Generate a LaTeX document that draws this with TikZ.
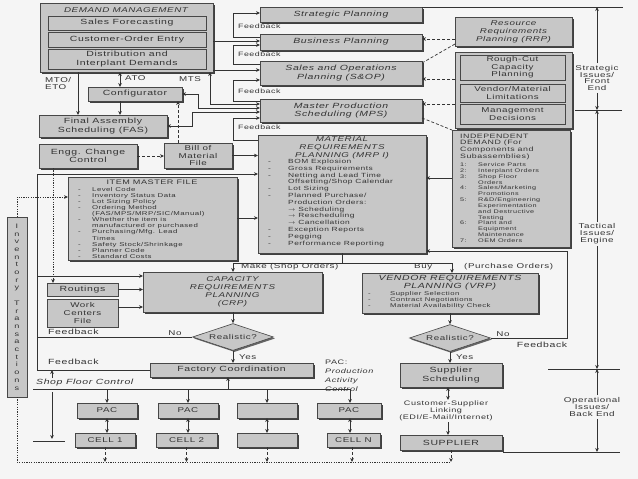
\documentclass[tikz,border=0pt]{standalone}
\usepackage{fontspec}
\setmainfont{Liberation Sans}[FakeStretch=1.4,LetterSpace=8]
\usetikzlibrary{arrows.meta,shapes.geometric,shadows}
\definecolor{boxfill}{gray}{0.78}
\definecolor{boxline}{gray}{0.28}
\definecolor{ink}{gray}{0.2}
\definecolor{bgc}{gray}{0.96}
\newcommand{\fsz}[2]{\fontsize{#1}{#2}\selectfont}
\newcommand{\mbul}{\makebox[20pt][l]{-}}
\newcommand{\mnob}{\makebox[20pt][l]{}}
\newcommand{\ibul}{\makebox[14pt][l]{-}}
\newcommand{\inob}{\makebox[14pt][l]{}}
\newcommand{\vbul}{\makebox[22pt][l]{-}}
\newcommand{\nbul}[1]{\makebox[18pt][l]{#1}}
\newcommand{\placebox}[7][]{\node[#1,anchor=north west,minimum width={(#5)-(#3)},minimum height={(#6)-(#4)}] (#2) at (#3,#4) {#7};}
\tikzset{
 every node/.style={text=ink},
 gbox/.style={draw=boxline,fill=boxfill,line width=0.6pt,inner sep=1pt,outer sep=0pt,align=center,font=\fsz{7.5}{8.5}},
 sbox/.style={gbox,drop shadow={shadow xshift=2pt,shadow yshift=-2pt,fill=black!75,opacity=1}},
 dia/.style={diamond,draw=boxline,fill=boxfill,line width=0.6pt,minimum width=81pt,minimum height=27pt,inner sep=0pt,shape aspect=3,font=\fsz{7}{8},drop shadow={shadow xshift=1.5pt,shadow yshift=-1.5pt,fill=black!60,opacity=1}},
 conn/.style={draw=ink,line width=0.7pt},
 arr/.style={conn,-{Stealth[length=4pt,width=3.6pt]}},
 darr/.style={conn,{Stealth[length=4pt,width=3.6pt]}-{Stealth[length=4pt,width=3.6pt]}},
 dashc/.style={dash pattern=on 3pt off 2pt},
 dotc/.style={dash pattern=on 1.2pt off 1.2pt,line width=0.9pt},
 lbl/.style={inner sep=1pt,font=\fsz{7}{8}},
}
\begin{document}
\begin{tikzpicture}[x=1pt,y=-1pt]
\fill[bgc] (0,0) rectangle (638,479);
\useasboundingbox (0,0) rectangle (638,479);

% ---------- Demand management ----------
\placebox[sbox]{dm}{40}{3}{213}{72}{}
\node[lbl,font=\fsz{7}{8}\itshape] (dmt) at (126,10) {DEMAND MANAGEMENT};
\placebox[gbox]{sf}{48}{16}{206}{30}{Sales Forecasting}
\placebox[gbox]{coe}{48}{32}{206}{47}{Customer-Order Entry}
\placebox[gbox]{did}{48}{49}{206}{69}{Distribution and\\Interplant Demands}

% ---------- left column ----------
\placebox[sbox]{cfg}{88}{87}{182}{101}{Configurator}
\placebox[sbox]{fas}{39}{115}{167}{137}{Final Assembly\\Scheduling (FAS)}
\placebox[sbox]{ecc}{39}{144}{137}{168}{Engg. Change\\Control}
\placebox[sbox,font=\fsz{7}{7.5}]{bom}{164}{143}{232}{168}{Bill of\\Material\\File}

% ---------- central column ----------
\placebox[sbox,font=\fsz{7.5}{8.5}\itshape]{sp}{260}{7}{422}{22}{Strategic Planning}
\placebox[sbox,font=\fsz{7.5}{8.5}\itshape]{bp}{260}{34}{422}{50}{Business Planning}
\placebox[sbox,font=\fsz{7.5}{8.5}\itshape]{sop}{260}{61}{422}{85}{Sales and Operations\\Planning (S\&OP)}
\placebox[sbox,font=\fsz{7.5}{8.5}\itshape]{mps}{260}{99}{422}{122}{Master Production\\Scheduling (MPS)}
\placebox[sbox]{mrp}{258}{135}{426}{253}{}
\node[lbl,font=\fsz{7}{8}\itshape,align=center,anchor=north] (mrpt) at (342,135.5) {MATERIAL\\REQUIREMENTS\\PLANNING (MRP I)};
\node[lbl,font=\fsz{6}{6.8},align=left,anchor=north west,inner sep=0pt] (mrpl) at (268,159) {\mbul BOM Explosion\\\mbul Gross Requirements\\\mbul Netting and Lead Time\\\mnob Offsetting/Shop Calendar\\\mbul Lot Sizing\\\mbul Planned Purchase/\\\mnob Production Orders:\\\mnob $\rightarrow$ Scheduling\\\mnob $\rightarrow$ Rescheduling\\\mnob $\rightarrow$ Cancellation\\\mbul Exception Reports\\\mbul Pegging\\\mbul Performance Reporting};

% ---------- right column ----------
\placebox[sbox,font=\fsz{7}{8}\itshape]{rrp}{455}{17}{572}{46}{Resource\\Requirements\\Planning (RRP)}
\placebox[sbox]{cap}{455}{52}{572}{128}{}
\placebox[gbox,font=\fsz{7}{7.5}]{rccp}{460}{55}{565}{80}{Rough-Cut\\Capacity\\Planning}
\placebox[gbox,font=\fsz{7}{7.5}]{vml}{460}{84}{565}{102}{Vendor/Material\\Limitations}
\placebox[gbox,font=\fsz{7}{7.5}]{md}{460}{104}{565}{124}{Management\\Decisions}
\placebox[sbox]{ind}{452}{130}{570}{247}{}
\node[lbl,font=\fsz{6.3}{6.7},align=left,anchor=north west,inner sep=0pt] (indt) at (460,133.5) {INDEPENDENT\\DEMAND (For\\Components and\\Subassemblies)};
\node[lbl,font=\fsz{5.2}{5.85},align=left,anchor=north west,inner sep=0pt] (indl) at (460,162.5) {\nbul{1:}Service Parts\\\nbul{2:}Interplant Orders\\\nbul{3:}Shop Floor\\\nbul{}Orders\\\nbul{4:}Sales/Marketing\\\nbul{}Promotions\\\nbul{5:}R\&D/Engineering\\\nbul{}Experimentation\\\nbul{}and Destructive\\\nbul{}Testing\\\nbul{6:}Plant and\\\nbul{}Equipment\\\nbul{}Maintenance\\\nbul{7:}OEM Orders};

% ---------- item master ----------
\placebox[sbox]{imf}{68}{177}{237}{260}{}
\node[lbl,font=\fsz{6.5}{7}] (imft) at (152,182) {ITEM MASTER FILE};
\node[lbl,font=\fsz{5.6}{6.1},align=left,anchor=north west,inner sep=0pt] (imfl) at (78,187) {\ibul Level Code\\\ibul Inventory Status Data\\\ibul Lot Sizing Policy\\\ibul Ordering Method\\\inob (FAS/MPS/MRP/SIC/Manual)\\\ibul Whether the item is\\\inob manufactured or purchased\\\ibul Purchasing/Mfg. Lead\\\inob Times\\\ibul Safety Stock/Shrinkage\\\ibul Planner Code\\\ibul Standard Costs};

% ---------- capacity / vendor ----------
\placebox[gbox]{rout}{47}{283}{118}{296}{Routings}
\placebox[gbox,font=\fsz{7}{7.8}]{wcf}{47}{299}{118}{327}{Work\\Centers\\File}
\placebox[sbox,font=\fsz{7}{8}\itshape]{crp}{143}{272}{322}{312}{CAPACITY\\REQUIREMENTS\\PLANNING\\(CRP)}
\placebox[sbox]{vrp}{362}{273}{538}{313}{}
\node[lbl,font=\fsz{7.5}{7.5}\itshape,align=center] (vrpt) at (450,282.5) {VENDOR REQUIREMENTS\\PLANNING (VRP)};
\node[lbl,font=\fsz{5.5}{6},align=left,anchor=north west,inner sep=0pt] (vrpl) at (368,291) {\vbul Supplier Selection\\\vbul Contract Negotiations\\\vbul Material Availability Check};

\node[dia] (d1) at (233,337) {Realistic?};
\node[dia] (d2) at (450,338) {Realistic?};
\placebox[sbox]{fc}{150}{363}{313}{377}{Factory Coordination}
\placebox[sbox]{ss}{400}{363}{502}{387}{Supplier\\Scheduling}
\placebox[sbox]{sup}{400}{435}{502}{450}{SUPPLIER}

% ---------- PAC / cells ----------
\placebox[sbox,font=\fsz{7}{8}]{pac1}{77}{403}{137}{418}{PAC}
\placebox[sbox,font=\fsz{7}{8}]{pac2}{158}{403}{218}{418}{PAC}
\placebox[sbox,font=\fsz{7}{8}]{pac3}{237}{403}{297}{418}{}
\placebox[sbox,font=\fsz{7}{8}]{pacN}{317}{403}{381}{418}{PAC}
\placebox[sbox,font=\fsz{7}{8}]{cell1}{75}{433}{135}{447}{CELL 1}
\placebox[sbox,font=\fsz{7}{8}]{cell2}{156}{433}{217}{447}{CELL 2}
\placebox[sbox,font=\fsz{7}{8}]{cell3}{237}{433}{297}{447}{}
\placebox[sbox,font=\fsz{7}{8}]{cellN}{327}{433}{380}{447}{CELL N}

% ---------- inventory transactions ----------
\placebox[gbox,font=\fsz{6.5}{7.7}]{inv}{7}{217}{27}{397}{I\\n\\v\\e\\n\\t\\o\\r\\y\\[7.7pt]T\\r\\a\\n\\s\\a\\c\\t\\i\\o\\n\\s}

% ---------- labels ----------
\node[lbl,anchor=north west,align=left,font=\fsz{7}{7.5}] (mto) at (44,76) {MTO/\\ETO};
\node[lbl,anchor=west] (ato) at (124,78) {ATO};
\node[lbl,anchor=west] (mts) at (178,79) {MTS};
\foreach \yy/\nm in {26/fb1,54/fb2,91/fb3,127/fb4}
  \node[lbl,anchor=west,font=\fsz{6.3}{7}] (\nm) at (237,\yy) {Feedback};
\node[lbl,anchor=west,font=\fsz{7.5}{8}] (fb5) at (47,331.5) {Feedback};
\node[lbl,anchor=west,font=\fsz{7.5}{8}] (fb6) at (47,362) {Feedback};
\node[lbl,anchor=center,font=\fsz{7.5}{8}] (fb7) at (542,345) {Feedback};
\node[lbl] (no1) at (175,333) {No};
\node[lbl] (no2) at (503,334) {No};
\node[lbl,anchor=west] (yes1) at (238,357) {Yes};
\node[lbl,anchor=west] (yes2) at (455,357) {Yes};
\node[lbl,anchor=west] (make) at (240,267) {Make (Shop Orders)};
\node[lbl,anchor=west] (buy) at (413,267) {Buy};
\node[lbl,anchor=west] (po) at (463,267) {(Purchase Orders)};
\node[lbl,anchor=north west,align=left,font=\fsz{6.5}{9}\itshape] (pacnote) at (324,358.5) {{\upshape PAC:}\\Production\\Activity\\Control};
\node[lbl,anchor=west,font=\fsz{7.5}{8}\itshape] (sfc) at (35,383) {Shop Floor Control};
\node[lbl,align=center,font=\fsz{6.5}{6.8}] (csl) at (446,411) {Customer-Supplier\\Linking\\(EDI/E-Mail/Internet)};
\node[lbl,align=center,font=\fsz{7}{6.8},inner sep=2pt] (stl) at (597,78) {Strategic\\Issues/\\Front\\End};
\node[lbl,align=center,font=\fsz{7}{7},inner sep=2pt] (tac) at (597,234) {Tactical\\Issues/\\Engine};
\node[lbl,align=center,font=\fsz{7}{7},inner sep=2pt] (opl) at (592,407) {Operational\\Issues/\\Back End};

% ---------- coordinates ----------
\coordinate (mb) at (342,263);
\coordinate (botR) at (451,462);
\coordinate (sfl) at (33,389);
\coordinate (sfr) at (350,389);
\coordinate (frc) at (37,276);
\coordinate (frt) at (37,174);
\coordinate (tl) at (422,7);
\coordinate (tr) at (623,7);
\coordinate (m1l) at (575,110);
\coordinate (m1r) at (622,110);
\coordinate (m2l) at (548,369);
\coordinate (m2r) at (620,369);
\coordinate (m3l) at (503,452);
\coordinate (m3r) at (620,452);
\coordinate (sa) at (52,378);
\coordinate (sb) at (52,370);
\coordinate (sc) at (52,392);
\coordinate (sd) at (52,439);
\coordinate (sel) at (33,441);
\coordinate (ser) at (65,441);

% ---------- connectors: left ----------
\draw[arr] (78,0 |- dm.south) -- (78,0 |- fas.north);
\draw[darr] (120,0 |- dm.south) -- (120,0 |- cfg.north);
\draw[arr] (120,0 |- cfg.south) -- (120,0 |- fas.north);
\draw[darr] (210,0 |- dm.south) |- (mps.west |- 0,104);
\draw[darr] (cfg.east) -| (198,108) -- (mps.west |- 0,108);
\draw[darr] (fas.east) -| (192,112) -- (mps.west |- 0,112);
\draw[arr,dashc] (ecc.east) -- (bom.west |- ecc.east);
\draw[arr,dashc] (178,0 |- bom.north) -- (178,0 |- cfg.south);
\draw[arr] (bom.east) -- (mrp.west |- bom.east);
\draw[arr] (dm.east |- 0,41) -- (bp.west |- 0,41);
\draw[arr] (dm.east |- 0,70) -- (sop.west |- 0,70);

% feedback loops
\draw[arr] (bp.west |- 0,37) -- (233,37) -- (233,13) -- (sp.west |- 0,13);
\draw[arr] (sop.west |- 0,64) -- (233,64) -- (233,45) -- (bp.west |- 0,45);
\draw[arr] (mps.west |- 0,101) -- (233,101) -- (233,80) -- (sop.west |- 0,80);
\draw[arr] (mrp.west |- 0,140) -- (233,140) -- (233,118) -- (mps.west |- 0,118);

% left frame
\draw[arr] (fc.west) -- (37,0 |- fc.west) -- (frt) -- (mrp.west |- frt);
\draw[conn] (d1.west) -- (37,0 |- d1.west);
\draw[arr] (frc) -- (crp.west |- frc);
\draw[arr] (imf.east |- 0,218) -- (mrp.west |- 0,218);
\draw[arr] (rout.east) -- (crp.west |- rout.east);
\draw[arr] (wcf.east |- 0,307) -- (crp.west |- 0,307);
\draw[arr,dotc] (53,0 |- ecc.south) -- (53,0 |- rout.north);
\draw[arr,dotc] (inv.north) -- (inv.north |- 0,197) -- (imf.west |- 0,197);
\draw[conn,dotc] (inv.south) -- (inv.south |- botR) -- (botR);

% make / buy
\draw[conn] (342,0 |- mrp.south) -- (mb);
\draw[arr] (mb) -| (233,0 |- crp.north);
\draw[arr] (mb) -| (452,0 |- vrp.north);
\draw[arr] (d1.north |- crp.south) -- (d1.north);
\draw[arr] (d1.south) -- (d1.south |- fc.north);
\draw[arr] (d2.north |- vrp.south) -- (d2.north);
\draw[arr] (d2.south) -- (d2.south |- ss.north);
\draw[arr] (d2.east) -- (567,0 |- d2.east) -- (567,251) -- (mrp.east |- 0,251);
\draw[arr] (ind.west |- 0,178) -- (mrp.east |- 0,178);

% dashed links to the right
\draw[arr,dashc] (rrp.west |- 0,39) -- (bp.east |- 0,39);
\draw[conn,dashc] (sop.east |- 0,63) -- (rrp.west |- 0,44);
\draw[arr,dashc] (cap.west |- 0,79) -- (sop.east |- 0,79);
\draw[arr,dashc] (cap.west |- 0,104) -- (mps.east |- 0,104);
\draw[conn,dashc] (mps.east |- 0,118) -- (ind.north west);

% shop floor
\draw[conn] (sfl) -- (sfr);
\draw[arr] (228,0 |- sfl) -- (228,0 |- fc.south);
\draw[arr] (pac1.north |- sfl) -- (pac1.north);
\draw[arr] (pac2.north |- sfl) -- (pac2.north);
\draw[arr] (pac3.north |- sfl) -- (pac3.north);
\draw[arr] (350,0 |- sfl) -- (350,0 |- pacN.north);
\draw[arr] (sa) -- (sb);
\draw[arr] (sc) -- (sd);
\draw[conn] (sel) -- (ser);
\draw[darr] (pac1.south) -- (pac1.south |- cell1.north);
\draw[darr] (pac2.south) -- (pac2.south |- cell2.north);
\draw[darr] (pac3.south) -- (pac3.south |- cell3.north);
\draw[darr] (350,0 |- pacN.south) -- (350,0 |- cellN.north);
\draw[arr,dashc] (cell1.south) -- (cell1.south |- botR);
\draw[arr,dashc] (cell2.south) -- (cell2.south |- botR);
\draw[arr,dashc] (cell3.south) -- (cell3.south |- botR);
\draw[arr,dashc] (352,0 |- cellN.south) -- (352,0 |- botR);
\draw[arr,dashc] (sup.south) -- (botR);
\draw[darr] (448,0 |- ss.south) -- (448,0 |- csl.north);
\draw[arr] (448,0 |- csl.south) -- (448,0 |- sup.north);

% right scale
\draw[conn] (tl) -- (tr);
\draw[arr] (stl.north) -- (597,0 |- tr);
\draw[arr] (stl.south) -- (597,0 |- m1l);
\draw[conn] (m1l) -- (m1r);
\draw[arr] (tac.north) -- (597,0 |- m1l);
\draw[arr] (tac.south) -- (597,0 |- m2l);
\draw[conn] (m2l) -- (m2r);
\draw[arr] (597,0 |- opl.north) -- (597,0 |- m2l);
\draw[arr] (597,0 |- opl.south) -- (597,0 |- m3l);
\draw[conn] (m3l) -- (m3r);
\end{tikzpicture}
\end{document}
